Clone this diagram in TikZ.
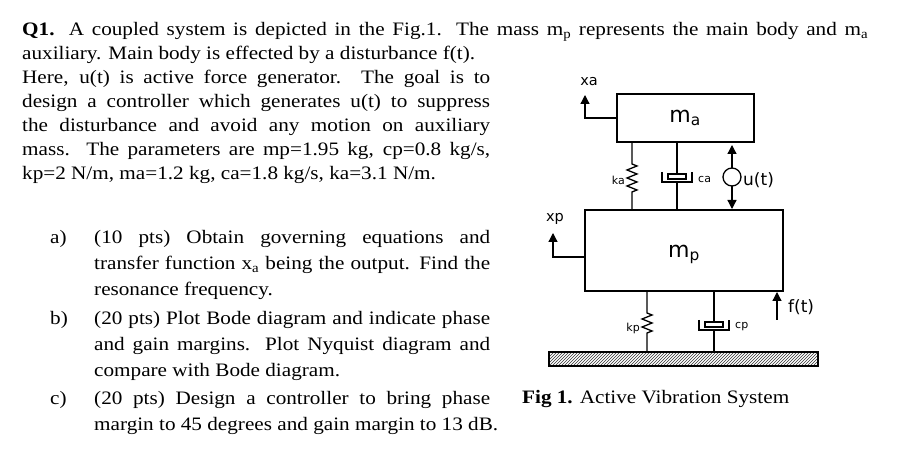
\documentclass[tikz,border=0pt]{standalone}
\usepackage{fontspec}
\setmainfont{Liberation Serif}[FakeStretch=1.115]
\newfontfamily\dg{DejaVu Sans}
\usetikzlibrary{patterns,decorations.pathmorphing,arrows.meta}
\begin{document}
\begin{tikzpicture}[x=1pt,y=-1pt,
  txt/.style={anchor=base west,inner sep=0pt,font=\fontsize{19}{22}\selectfont},
  lab/.style={inner sep=0pt,font=\dg\fontsize{14.5}{16}\selectfont},
  spr/.style={decorate,decoration={zigzag,amplitude=5pt,segment length=8pt,pre length=22pt,post length=16pt}},
  arr/.style={-{Triangle[length=9pt,width=9pt]},line width=1.3pt},
  thick/.style={line width=1.3pt}]
\useasboundingbox (0,0) rectangle (898,462);
\newcommand\jl[3]{\node[txt] at (#1,#2) {\hbox to 468pt{#3}};}
\node[txt] (t1) at (22,36) {\hbox to 846pt{\textbf{Q1.} A coupled system is depicted in the Fig.1. The mass m\textsubscript{p} represents the main body and m\textsubscript{a}}};
\node[txt] (t2) at (22,60) {auxiliary. Main body is effected by a disturbance f(t).};
\jl{22}{84}{Here, u(t) is active force generator. The goal is to}
\jl{22}{108}{design a controller which generates u(t) to suppress}
\jl{22}{132}{the disturbance and avoid any motion on auxiliary}
\jl{22}{156}{mass.\ \ The parameters are mp=1.95 kg, cp=0.8 kg/s,}
\node[txt] (t7) at (22,180) {kp=2 N/m, ma=1.2 kg, ca=1.8 kg/s, ka=3.1 N/m.};
\node[txt] (la) at (50,244) {a)};
\node[txt] (ta1) at (94,244) {\hbox to 396pt{(10 pts) Obtain governing equations and}};
\node[txt] (ta2) at (94,270) {\hbox to 396pt{transfer function x\textsubscript{a} being the output. Find the}};
\node[txt] (ta3) at (94,296) {resonance frequency.};
\node[txt] (lb) at (50,325) {b)};
\node[txt] (tb1) at (94,325) {\hbox to 396pt{(20 pts) Plot Bode diagram and indicate phase}};
\node[txt] (tb2) at (94,351) {\hbox to 396pt{and gain margins. Plot Nyquist diagram and}};
\node[txt] (tb3) at (94,377) {compare with Bode diagram.};
\node[txt] (lc) at (50,405) {c)};
\node[txt] (tc1) at (94,405) {\hbox to 396pt{(20 pts) Design a controller to bring phase}};
\node[txt] (tc2) at (94,431) {margin to 45 degrees and gain margin to 13 dB.};
\node[txt] (cap) at (522,404) {\textbf{Fig 1.} Active Vibration System};
% diagram
\draw[thick] (617,94) rectangle (754,142);
\node[lab,font=\dg\fontsize{22}{24}\selectfont] (ma) at (685,118) {m\textsubscript{a}};
\draw[thick] (585,210) rectangle (783,291);
\node[lab,font=\dg\fontsize{22}{24}\selectfont] (mp) at (684,254) {m\textsubscript{p}};
\fill[pattern=north east lines,pattern color=black!80] (549,352) rectangle (818,366);
\draw[thick] (549,352) rectangle (818,366);
% springs
\draw[thick,spr] (632,142) -- (632,210);
\node[lab,anchor=east,font=\dg\fontsize{11}{12}\selectfont] at (625,180) {ka};
\draw[thick,spr] (647,291) -- (647,352);
\node[lab,anchor=east,font=\dg\fontsize{11}{12}\selectfont] at (640,328) {kp};
% dampers
\draw[thick] (677,142) -- (677,175);
\draw[thick] (668,174) rectangle (686,179);
\draw[thick] (662,172) -- (662,182) -- (692,182) -- (692,172);
\draw[thick] (677,182) -- (677,210);
\node[lab,anchor=west,font=\dg\fontsize{11}{12}\selectfont] at (698,180) {ca};
\draw[thick] (714,291) -- (714,323);
\draw[thick] (705,322) rectangle (723,327);
\draw[thick] (699,320) -- (699,330) -- (729,330) -- (729,320);
\draw[thick] (714,330) -- (714,352);
\node[lab,anchor=west,font=\dg\fontsize{11}{12}\selectfont] at (735,327) {cp};
% actuator
\draw[thick] (732,177) circle (9);
\draw[arr] (732,168) -- (732,145);
\draw[arr] (732,186) -- (732,209);
\node[lab,anchor=west,font=\dg\fontsize{17}{19}\selectfont] at (743,180) {u(t)};
% force
\draw[arr] (777,320) -- (777,292);
\node[lab,anchor=west,font=\dg\fontsize{17}{19}\selectfont] at (788,307) {f(t)};
% displacement arrows
\draw[arr] (617,118) -- (585,118) -- (585,95);
\node[lab] at (589,82) {xa};
\draw[arr] (585,257) -- (553,257) -- (553,233);
\node[lab] at (555,219) {xp};
\end{tikzpicture}
\end{document}
